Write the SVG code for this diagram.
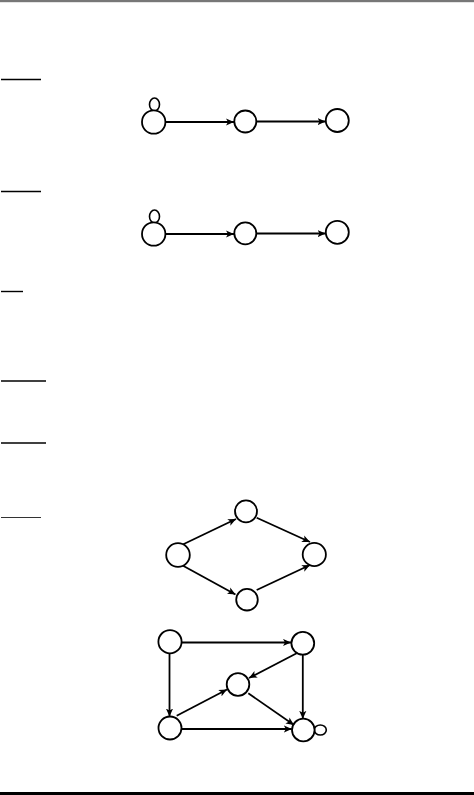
<svg xmlns="http://www.w3.org/2000/svg" width="474" height="795" viewBox="0 0 474 795">
<style>
.n{fill:#fff;stroke:#000;stroke-width:1.8}
.e{fill:none;stroke:#000;stroke-width:1.8}
.l{fill:none;stroke:#000;stroke-width:1.6}
.u{stroke:#000;stroke-width:1.4}
</style>
<defs>
<marker id="a" viewBox="0 0 10 10" refX="10" refY="5" markerWidth="8" markerHeight="8" markerUnits="userSpaceOnUse" orient="auto">
<path d="M0,0.5 L10,5 L0,9.5 L2.5,5 Z" fill="#000"/>
</marker>
</defs>
<rect x="0" y="0" width="474" height="795" fill="#fff"/>
<rect x="0" y="0" width="474" height="2.2" fill="#777"/>
<rect x="0" y="792" width="474" height="3" fill="#000"/>
<g id="underlines">
<line class="u" x1="1" y1="79.5" x2="41" y2="79.5"/>
<line class="u" x1="1" y1="191.5" x2="41" y2="191.5"/>
<line class="u" x1="1" y1="291.5" x2="23" y2="291.5"/>
<line class="u" x1="1" y1="381" x2="46" y2="381"/>
<line class="u" x1="1" y1="443" x2="46" y2="443"/>
<line x1="1" y1="517.5" x2="41" y2="517.5" stroke="#333" stroke-width="1"/>
</g>
<g id="connectors">
<ellipse class="l" cx="154.5" cy="104.5" rx="5" ry="6.5"/>
<line class="e" x1="165.5" y1="122" x2="234" y2="122" marker-end="url(#a)"/>
<line class="e" x1="256.5" y1="121.5" x2="325.5" y2="121.5" marker-end="url(#a)"/>
<ellipse class="l" cx="154.5" cy="216.5" rx="5" ry="6.5"/>
<line class="e" x1="165.5" y1="234" x2="234" y2="234" marker-end="url(#a)"/>
<line class="e" x1="256.5" y1="233.5" x2="325.5" y2="233.5" marker-end="url(#a)"/>
<line class="e" x1="183.3" y1="544.3" x2="236" y2="519" marker-end="url(#a)"/>
<line class="e" x1="256.7" y1="517.7" x2="310" y2="542" marker-end="url(#a)"/>
<line class="e" x1="181.7" y1="565" x2="235.5" y2="594.5" marker-end="url(#a)"/>
<line class="e" x1="256.7" y1="590" x2="310" y2="565" marker-end="url(#a)"/>
<line class="e" x1="181.7" y1="642.5" x2="291" y2="642.5" marker-end="url(#a)"/>
<line class="e" x1="169.5" y1="653.5" x2="169.5" y2="716.5" marker-end="url(#a)"/>
<line class="e" x1="296.7" y1="653.3" x2="249" y2="678" marker-end="url(#a)"/>
<line class="e" x1="302.8" y1="655" x2="302.8" y2="718.8" marker-end="url(#a)"/>
<line class="e" x1="176.7" y1="715.7" x2="227" y2="689.5" marker-end="url(#a)"/>
<line class="e" x1="248.3" y1="693.3" x2="294" y2="725" marker-end="url(#a)"/>
<line class="e" x1="181.7" y1="729" x2="291.8" y2="729" marker-end="url(#a)"/>
<ellipse class="l" cx="320.3" cy="730" rx="6" ry="5"/>
</g>
<g id="g1a"><circle class="n" cx="153.7" cy="122" r="11.7"/></g>
<g id="g1b"><circle class="n" cx="245.3" cy="121.5" r="11"/></g>
<g id="g1c"><circle class="n" cx="337.3" cy="120.5" r="11.5"/></g>
<g id="g2a"><circle class="n" cx="153.7" cy="234" r="11.7"/></g>
<g id="g2b"><circle class="n" cx="245.3" cy="233.3" r="11"/></g>
<g id="g2c"><circle class="n" cx="337.3" cy="232.3" r="11.5"/></g>
<g id="d_left"><circle class="n" cx="178" cy="555" r="11.8"/></g>
<g id="d_top"><circle class="n" cx="246" cy="511.3" r="11"/></g>
<g id="d_right"><circle class="n" cx="314.3" cy="554.5" r="11.6"/></g>
<g id="d_bottom"><circle class="n" cx="247" cy="599.7" r="10.8"/></g>
<g id="h_tl"><circle class="n" cx="170" cy="641.7" r="11.6"/></g>
<g id="h_tr"><circle class="n" cx="302.8" cy="643.3" r="11.4"/></g>
<g id="h_mid"><circle class="n" cx="238" cy="684.5" r="11.3"/></g>
<g id="h_bl"><circle class="n" cx="170" cy="728" r="11.5"/></g>
<g id="h_br"><circle class="n" cx="303.3" cy="730" r="11.3"/></g>
</svg>
